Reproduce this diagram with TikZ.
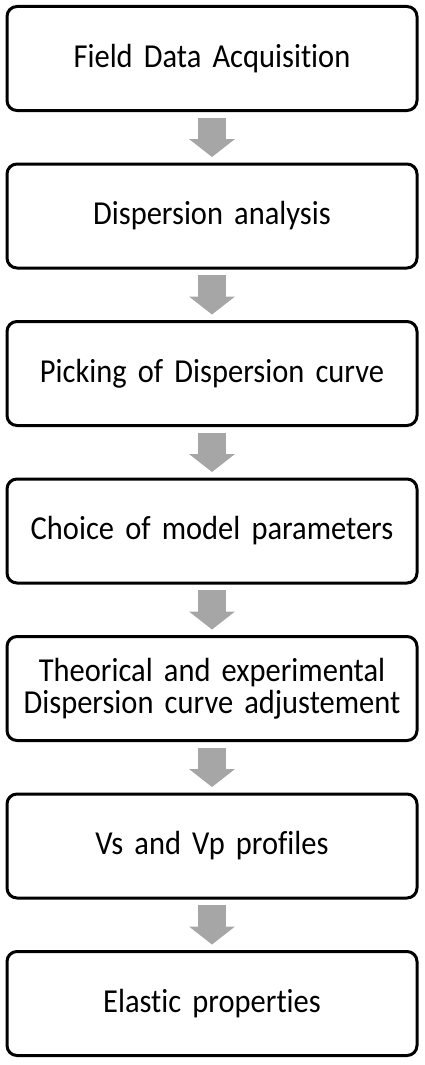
\documentclass[tikz,border=0pt]{standalone}
\usepackage{fontspec}
\setmainfont{Carlito}[Ligatures=NoCommon, FakeStretch=0.91, WordSpace=0.8]
\usetikzlibrary{arrows.meta, positioning}
\definecolor{flowGray}{HTML}{A6A6A6}

\begin{document}
\begin{tikzpicture}[
    x=1pt, y=1pt,
    node distance=53.5pt,
    flowbox/.style={rectangle, rounded corners=10pt, draw=black, line width=3pt,
                 fill=white, minimum width=410pt, minimum height=104pt,
                 text width=404pt, align=center, outer sep=0pt, inner sep=2pt,
                 font=\fontsize{33.5}{32.5}\selectfont},
    flowarrow/.style={draw=flowGray, line width=28pt, shorten <=7pt, shorten >=7pt,
                 -{Triangle[width=46pt, length=18pt, line width=0pt]}},
  ]
    \useasboundingbox (0,0) rectangle (425,-1065);

    \node[flowbox] (s0) at (212,-58.5) {Field Data Acquisition};
    \node[flowbox, below=of s0] (s1) {Dispersion analysis};
    \node[flowbox, below=of s1] (s2) {Picking of Dispersion curve};
    \node[flowbox, below=of s2] (s3) {Choice of model parameters};
    \node[flowbox, below=of s3] (s4) {Theorical and experimental\\Dispersion curve adjustement};
    \node[flowbox, below=of s4] (s5) {Vs and Vp profiles};
    \node[flowbox, below=of s5] (s6) {Elastic properties};

    \draw[flowarrow] (s0) -- (s1);
    \draw[flowarrow] (s1) -- (s2);
    \draw[flowarrow] (s2) -- (s3);
    \draw[flowarrow] (s3) -- (s4);
    \draw[flowarrow] (s4) -- (s5);
    \draw[flowarrow] (s5) -- (s6);
  \end{tikzpicture}
\end{document}
